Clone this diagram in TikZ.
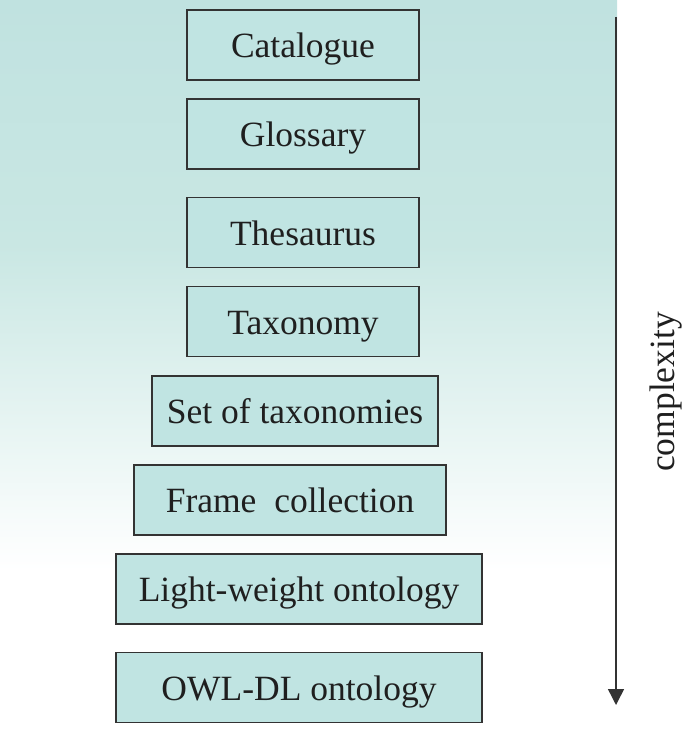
\documentclass[tikz,border=0pt]{standalone}
\usepackage{fontspec}
\setmainfont{Liberation Serif}
\usetikzlibrary{positioning,arrows.meta}
\definecolor{levelfill}{HTML}{C0E4E2}
\definecolor{leveledge}{HTML}{333333}
\definecolor{bgtop}{HTML}{C0E2E0}
\definecolor{bgmid}{HTML}{C9E7E3}

\begin{document}
\begin{tikzpicture}[
  x=0.5pt, y=-0.5pt,
  node distance=8.8pt,
  level/.style={draw=leveledge, fill=levelfill, line width=0.75pt, inner sep=0pt, minimum height=35pt, text height=14pt, text depth=1.5pt, font=\fontsize{17.75}{20}\selectfont, text=black!88},
  flow/.style={-{Triangle[width=8pt,length=8pt]}, line width=0.75pt, draw=black!80}
]
  \useasboundingbox (0,0) rectangle (685,742);
  % background fade
  \shade[top color=bgtop, bottom color=bgmid] (0,0) rectangle (617,245);
  \shade[top color=bgmid, bottom color=white] (0,245) rectangle (617,570);
  \node[level, minimum width=116pt] (cat) at (303,45) {Catalogue};
  \node[level, minimum width=116pt, below=of cat] (glo) {Glossary};
  \node[level, minimum width=116pt, below=13.5pt of glo] (the) {Thesaurus};
  \node[level, minimum width=116pt, below=of the] (tax) {Taxonomy};
  \node[level, minimum width=143pt, below=of tax, xshift=-4pt] (set) {Set of taxonomies};
  \node[level, minimum width=156pt, below=of set, xshift=-2.5pt] (frm) {Frame\ \ collection};
  \node[level, minimum width=183pt, below=of frm, xshift=4.5pt] (lwo) {Light-weight ontology};
  \node[level, minimum width=183pt, below=13.5pt of lwo] (owl) {OWL-DL ontology};
  % complexity axis
  \coordinate (axtop) at (616,17);
  \coordinate (axbot) at (616,705);
  \draw[flow] (axtop) -- (axbot);
  \node[rotate=90, font=\fontsize{17.75}{20}\selectfont, text=black!88] (cplx) at (666,392) {complexity};
\end{tikzpicture}
\end{document}
